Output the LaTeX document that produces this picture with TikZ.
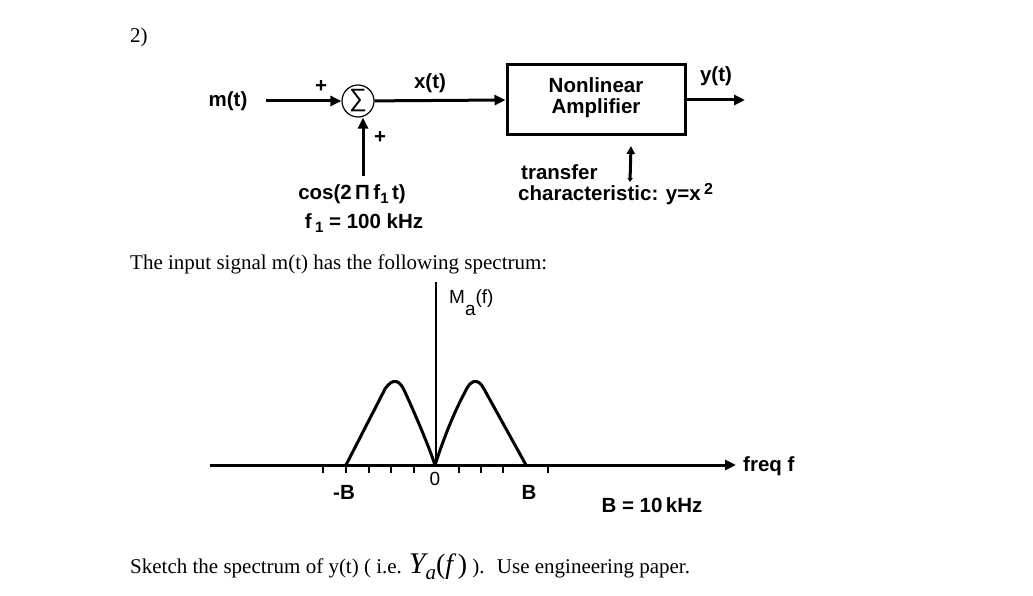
\documentclass[tikz,border=0pt]{standalone}
\usepackage{fontspec}
\setmainfont{Liberation Serif}
\newfontfamily\arl{Liberation Sans}
\usetikzlibrary{arrows.meta}
\newcommand{\lsub}[1]{\raisebox{-0.35ex}{\fontsize{15}{15}\selectfont #1}}
\newcommand{\lsup}[1]{\raisebox{0.6ex}{\fontsize{16}{16}\selectfont #1}}
\begin{document}
\begin{tikzpicture}[x=1pt,y=-1pt,
  lbl/.style={font=\arl\bfseries\fontsize{20.5}{21}\selectfont, inner sep=0pt},
  body/.style={font=\fontsize{21}{23}\selectfont, inner sep=0pt, anchor=west},
  sig/.style={line width=3pt,-{Triangle[length=11pt,width=10pt]}},
  thin/.style={line width=1.2pt}]
\useasboundingbox (0,0) rectangle (1033,596);
\node[body] (q) at (130,37) {2)};
\node[lbl] (m) at (228,101) {m(t)};
\node[draw,circle,thin,minimum size=32pt,inner sep=0pt] (s) at (358,101) {\arl\fontsize{25}{25}\selectfont ∑};
\node[lbl] (p1) at (321,86) {+};
\node[lbl] (p2) at (380,137) {+};
\coordinate (ms) at (266,101);
\draw[sig] (ms) -- (s);
\node[draw,line width=3pt,minimum width=178pt,minimum height=70pt] (amp) at (596,100) {};
\node[lbl,align=center] (amt) at (596,98) {Nonlinear\\Amplifier};
\draw[sig] (s) -- (amp.west);
\node[lbl] (x) at (430,83) {x(t)};
\coordinate (yo) at (745,100);
\draw[sig] (amp.east) -- (yo);
\node[lbl] (y) at (716,76) {y(t)};
\coordinate (cs) at (363,176);
\draw[sig] (cs) -- (s.south -| cs);
\node[lbl] (cos) at (352,194) {cos(2\,Π\,f\lsub{1}\,t)};
\node[lbl] (f1) at (364,223) {f\,\lsub{1} = 100 kHz};
\coordinate (ta) at (631,146);
\coordinate (tb) at (630,182);
\draw[line width=3pt,{Triangle[length=8pt,width=8pt]}-{Triangle[length=4pt,width=5pt]}] (ta) -- (tb);
\node[lbl,anchor=west] (tr) at (521,172) {transfer};
\node[lbl,anchor=west] (ch) at (518,194) {characteristic: y=x\,\lsup{2}};
\node[body] (t1) at (130,264) {The input signal m(t) has the following spectrum:};
% spectrum
\coordinate (vt) at (436,282);
\coordinate (vb) at (436,466);
\draw[thin] (vt) -- (vb);
\node[anchor=west,inner sep=0pt,font=\arl\fontsize{19}{20}\selectfont] (M) at (449,303) {M\raisebox{-1.2ex}{a}(f)};
\coordinate (a0) at (210,465);
\coordinate (a1) at (736,465);
\draw[line width=3pt,-{Triangle[length=11pt,width=10pt]}] (a0) -- (a1);
\foreach \x in {323,346,369,391,414,459,481,503,548} \draw[line width=1.8pt] (\x,465) -- (\x,473);
\node[lbl,anchor=west] (ff) at (743,466) {freq f};
\draw[line width=3pt,line join=round] (346,465) -- (385,389) .. controls (393,377) and (400,380) .. (405,392) .. controls (420,425) and (430,450) .. (435,465)
  .. controls (440,450) and (450,420) .. (465,392) .. controls (470,380) and (478,377) .. (484,389) -- (526,465);
\node[lbl] (mb) at (344,492) {-B};
\node[inner sep=0pt,font=\arl\fontsize{19}{20}\selectfont] (z) at (435,479) {0};
\node[lbl] (b) at (529,492) {B};
\node[lbl] (bk) at (652,505) {B = 10\,kHz};
\node[body] (t2) at (130,567) {Sketch the spectrum of y(t) ( i.e. {\fontsize{30}{30}\selectfont\itshape Y}\raisebox{-0.6ex}{\itshape a}{\fontsize{28}{28}\selectfont (\itshape f\,\upshape )} ).~ Use engineering paper.};
\end{tikzpicture}
\end{document}
